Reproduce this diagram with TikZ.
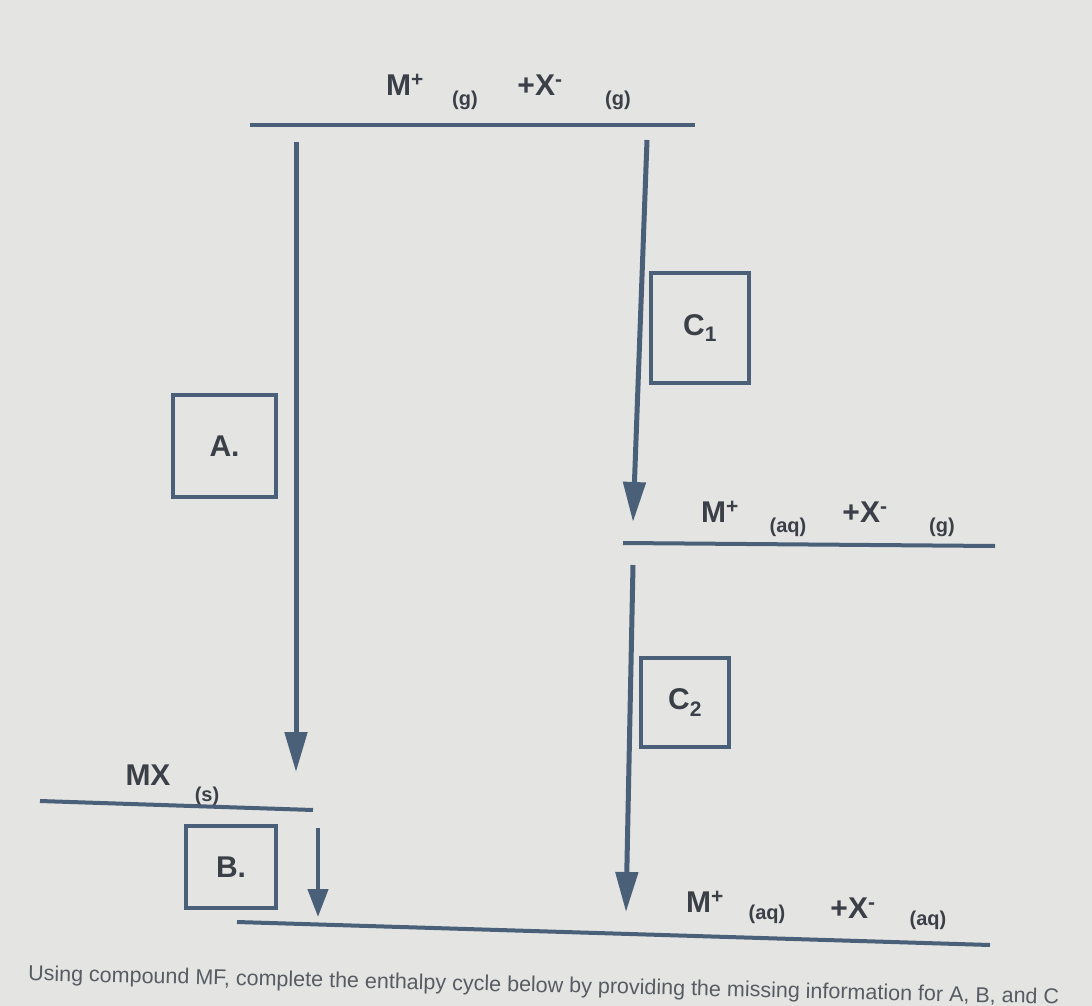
\documentclass[tikz,border=0pt]{standalone}
\usepackage{fontspec}
\setmainfont{Liberation Sans}
\usetikzlibrary{arrows.meta}
\definecolor{ln}{HTML}{4A5F78}
\definecolor{bg}{HTML}{E4E5E2}
\definecolor{tx}{HTML}{3A3F48}
\begin{document}
\begin{tikzpicture}[x=1pt,y=-1pt,
  lvl/.style={draw=ln,line width=4pt},
  arr/.style={draw=ln,line width=5pt,-{Triangle[length=40pt,width=22pt]}},
  sarr/.style={draw=ln,line width=4.5pt,-{Triangle[length=28pt,width=20pt]}},
  box/.style={draw=ln,line width=3.5pt,inner sep=0pt,font=\bfseries\fontsize{30}{32}\selectfont,text=tx},
  lab/.style={font=\bfseries\fontsize{30}{32}\selectfont,text=tx,inner sep=0pt},
  sub/.style={font=\bfseries\fontsize{20}{22}\selectfont,text=tx,inner sep=0pt}]
\fill[bg] (0,0) rectangle (1092,1006);
\useasboundingbox (0,0) rectangle (1092,1006);
\begin{scope}
\clip (0,0) rectangle (1092,1006);
% top level
\draw[lvl] (250,125) -- (695,125);
\node[lab] (t1) at (405,85) {M\textsuperscript{+}};
\node[sub] at (465,100) {(g)};
\node[lab] at (540,85) {+X\textsuperscript{-}};
\node[sub] at (618,100) {(g)};
% left arrow and A
\coordinate (la1) at (296,142); \coordinate (la2) at (296,772);
\draw[arr] (la1) -- (la2);
\node[box,minimum width=103pt,minimum height=102pt] (A) at (224.5,446) {A.};
% right arrow C1
\coordinate (r1a) at (647,140); \coordinate (r1b) at (633,522);
\draw[arr] (r1a) -- (r1b);
\node[box,minimum width=98pt,minimum height=110pt] (C1) at (700,328) {C\textsubscript{1}};
% middle level
\draw[lvl] (623,543) -- (995,546);
\node[lab] at (720,512) {M\textsuperscript{+}};
\node[sub] at (788,527) {(aq)};
\node[lab] at (865,512) {+X\textsuperscript{-}};
\node[sub] at (942,527) {(g)};
% arrow C2
\coordinate (r2a) at (633,565); \coordinate (r2b) at (626,912);
\draw[arr] (r2a) -- (r2b);
\node[box,minimum width=88pt,minimum height=89pt] (C2) at (685,702.5) {C\textsubscript{2}};
% MX level
\node[lab] at (148,775) {MX};
\node[sub] at (207,796) {(s)};
\draw[lvl] (40,801) -- (313,810);
\node[box,minimum width=90pt,minimum height=82pt] (B) at (231,867) {B.};
\coordinate (sa) at (318,828); \coordinate (sb) at (318,917);
\draw[sarr] (sa) -- (sb);
% bottom level
\draw[lvl] (237,922) -- (990,945);
\node[lab] at (705,902) {M\textsuperscript{+}};
\node[sub] at (767,914) {(aq)};
\node[lab] at (853,908) {+X\textsuperscript{-}};
\node[sub] at (928,920) {(aq)};
% caption
\node[anchor=west,font=\fontsize{21.5}{23}\selectfont,text=tx!85,inner sep=0pt,rotate=-1.3] (cap) at (28,975) {Using compound MF, complete the enthalpy cycle below by providing the missing information for A, B, and C};
\end{scope}
\end{tikzpicture}
\end{document}
